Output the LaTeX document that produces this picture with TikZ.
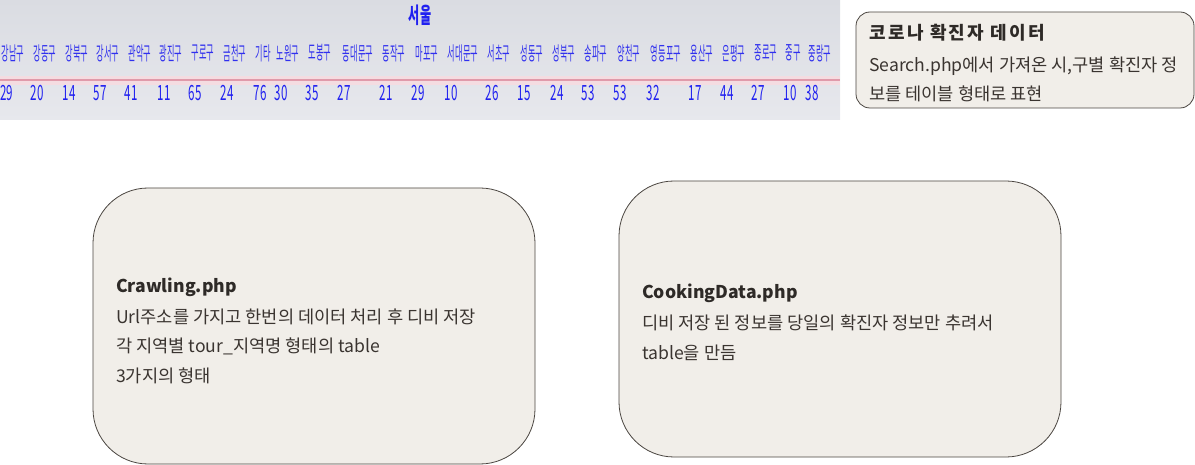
\documentclass[tikz,border=0pt]{standalone}
\usepackage{fontspec}
\usepackage{graphicx}
\setmainfont{Noto Sans CJK KR}
\newfontfamily\scrfont{Noto Sans CJK KR}
\definecolor{boxfill}{HTML}{F1EEE9}
\definecolor{boxline}{HTML}{4A4540}
\definecolor{txt}{HTML}{3A3430}
\definecolor{ttl}{HTML}{2E2A27}
\definecolor{scrblue}{HTML}{2020F0}
\definecolor{scrlab}{HTML}{3030EE}
\definecolor{panelA}{HTML}{DADCE2}
\definecolor{panelB}{HTML}{E7E8ED}
\definecolor{redline}{HTML}{E09AAA}
\tikzset{
  card/.style={draw=boxline, line width=0.8pt, fill=boxfill, rounded corners=#1, inner sep=0pt},
  cardtitle/.style={anchor=west, inner sep=0pt, text=ttl, font=\fontsize{17.6}{20}\selectfont\bfseries},
  kortitle/.style={anchor=west, inner sep=0pt, text=ttl, font=\fontsize{18}{20}\selectfont\bfseries\addfontfeature{LetterSpace=13}},
  cardtext/.style={anchor=west, inner sep=0pt, text=txt, font=\fontsize{17.6}{20}\selectfont},
  dlabel/.style={inner sep=0pt, text=scrlab, font=\scrfont\fontsize{19}{20}\selectfont},
  dnum/.style={inner sep=0pt, text=scrblue, font=\scrfont\fontsize{21}{22}\selectfont},
}
\begin{document}
\begin{tikzpicture}[x=1pt,y=-1pt]
\useasboundingbox (0,0) rectangle (1195,465);
% screenshot panel
\shade[top color=panelA, bottom color=panelB] (0,0) rectangle (840,120);
\fill[redline!35] (0,76.5) rectangle (840,85);
\draw[redline, line width=2pt] (0,80.5) -- (840,80.5);
\node[inner sep=0pt, text=scrblue, font=\scrfont\fontsize{22}{24}\selectfont\bfseries] (seoul) at (420,15) {\scalebox{0.55}[1]{서울}};
\foreach \x/\t [count=\k] in {13/강남구,45/강동구,77/강북구,108/강서구,140/관악구,171/광진구,203/구로구,235/금천구,263/기타,288/노원구,320/도봉구,358/동대문구,394/동작구,427/마포구,463/서대문구,499/서초구,532/성동구,564/성북구,596/송파구,629/양천구,666/영등포구,702/용산구,734/은평구,766/종로구,793/중구,820/중랑구}
  \node[dlabel] (d\k) at (\x,53) {\scalebox{0.43}[1]{\t}};
\foreach \x/\t [count=\k] in {6.5/29,37/20,69/14,100/57,131/41,164/11,195/65,227/24,260/76,281/30,312/35,344/27,386/21,418/29,451/10,492/26,524/15,557/24,588/53,620/53,653/32,695/17,727/44,758/27,790/10,812/38}
  \node[dnum] (n\k) at (\x,93) {\scalebox{0.55}[1]{\t}};
% card: corona data
\node[card=14pt, minimum width=338pt, minimum height=96pt] (cbox) at (1025,60) {};
\node[kortitle] (ct) at (869,33) {코로나 확진자 데이터};
\node[cardtext] (c1) at (869,66) {Search.php에서 가져온 시,구별 확진자 정};
\node[cardtext] (c2) at (869,94) {보를 테이블 형태로 표현};
% card: crawling
\node[card=55pt, minimum width=442pt, minimum height=276pt] (abox) at (314,326) {};
\node[cardtitle] (at) at (116,287) {Crawling.php};
\node[cardtext] (a1) at (116,317) {Url주소를 가지고 한번의 데이터 처리 후 디비 저장};
\node[cardtext] (a2) at (116,346) {각 지역별 tour\_지역명 형태의 table};
\node[cardtext] (a3) at (116,376) {3가지의 형태};
% card: cooking
\node[card=55pt, minimum width=442pt, minimum height=276pt] (bbox) at (840,319) {};
\node[cardtitle] (bt) at (642,293) {CookingData.php};
\node[cardtext] (b1) at (642,323) {디비 저장 된 정보를 당일의 확진자 정보만 추려서};
\node[cardtext] (b2) at (642,353) {table을 만듬};
\end{tikzpicture}
\end{document}
